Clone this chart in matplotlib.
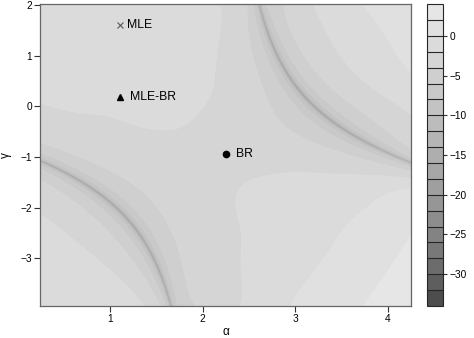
import numpy as np
import matplotlib
matplotlib.use("Agg")
import matplotlib.pyplot as plt

plt.rcParams['font.family'] = ['Liberation Sans', 'DejaVu Sans']

# Zero set of the surface (the surface falls to -inf along it): upper and lower branch
curve_alpha = [2.63, 2.72, 2.84, 3.03, 3.35, 3.80, 4.25,
               0.245, 0.43, 0.97, 1.32, 1.68]
curve_gamma = [2.00, 1.50, 1.00, 0.00, -0.45, -0.82, -1.06,
               -0.95, -1.20, -2.06, -2.79, -3.95]
curve_weight = [1, 1, 1, 1, 1, 1.5, 2,
                1.5, 1.5, 1.5, 1.5, 2.5]

# Points on contour boundaries (or inside a band) and their level
level_alpha = [0.245, 0.97, 1.75, 2.11, 2.19,
               2.40, 2.42, 2.50, 3.00,
               3.19, 3.37, 4.25, 1.35,
               2.49, 2.89, 1.55, 1.94,
               3.73, 4.25, 2.94, 3.05, 3.37, 3.80, 4.25,
               3.73, 4.25,
               2.25, 0.25, 1.00, 0.25,
               4.25, 4.25, 2.20, 2.35, 0.25]
level_gamma = [0.08, -0.18, -0.44, 0.35, 2.00,
               -3.95, -2.50, -1.45, -1.30,
               2.00, 1.35, -0.17, -3.95,
               2.00, 2.00, -3.95, -3.95,
               2.00, 0.67, -3.95, -3.63, -2.85, -1.97, -1.62,
               -3.95, -2.55,
               -0.95, 2.00, 1.00, -3.95,
               2.00, -1.35, -3.95, 2.00, -0.50]
level_value = [-2, -2, -2, -2, -2,
               -2, -2, -2, -2,
               -2, -2, -2, -2,
               -4, -4, -4, -4,
               0, 0, 0, 0, 0, 0, 0,
               2, 2,
               -3, -1, -1, -0.5,
               1, -3, -3, -3, -3]

# Estimates
est_alpha = [1.11, 1.11, 2.25]
est_gamma = [1.61, 0.18, -0.95]
est_names = ["MLE", "MLE-BR", "BR"]

levels = np.arange(-34, 5, 2)
x_range = (0.25, 4.25)
y_range = (-3.94, 2.01)
log_scale = 2.0      # weight of log|h| in the surface
core_scale = 3.0     # extra steepness right at the zero set
core_width = 0.03
h_floor = 0.002      # keeps the surface finite on the zero set
smoothing = 0.02


def quad_terms(a, g):
    a = np.asarray(a, float)
    g = np.asarray(g, float)
    return np.stack([a * a, a * g, g * g, a, g, np.ones_like(a)], axis=-1)


# conic through the zero set (weighted)
ca, cg = np.array(curve_alpha), np.array(curve_gamma)
cw = np.array(curve_weight, float)
_, _, vt = np.linalg.svd(quad_terms(ca, cg) * cw[:, None])
conic = vt[-1]
# scale so that |h| is close to the distance from the zero set
grad_a = 2 * conic[0] * ca + conic[1] * cg + conic[3]
grad_g = conic[1] * ca + 2 * conic[2] * cg + conic[4]
conic = conic / np.mean(np.hypot(grad_a, grad_g))


def singular_part(a, g):
    h = quad_terms(a, g) @ conic
    ah = np.sqrt(h * h + h_floor ** 2)
    return log_scale * np.log(ah) + core_scale * np.log(ah / (ah + core_width))


def tps_kernel(r):
    with np.errstate(divide='ignore', invalid='ignore'):
        k = r * r * np.log(r)
    return np.nan_to_num(k)


# smooth part: thin-plate spline through the remaining level values
la, lg, lv = map(np.array, (level_alpha, level_gamma, level_value))
resid = lv - singular_part(la, lg)
npts = len(la)
K = tps_kernel(np.hypot(la[:, None] - la[None, :], lg[:, None] - lg[None, :]))
P = np.column_stack([np.ones(npts), la, lg])
M = np.zeros((npts + 3, npts + 3))
M[:npts, :npts] = K + smoothing * np.eye(npts)
M[:npts, npts:] = P
M[npts:, :npts] = P.T
sol = np.linalg.solve(M, np.concatenate([resid, np.zeros(3)]))
w, lin = sol[:npts], sol[npts:]


def smooth_part(a, g):
    r = np.hypot(a[..., None] - la, g[..., None] - lg)
    return tps_kernel(r) @ w + lin[0] + lin[1] * a + lin[2] * g


A, G = np.meshgrid(np.linspace(*x_range, 700), np.linspace(*y_range, 600))
Z = singular_part(A, G) + smooth_part(A, G)
Z = np.clip(Z, levels[0] + 1e-3, levels[-1] - 1e-3)

# grey palette, gamma-corrected ramp from dark to light
n = len(levels) - 1
greys = np.linspace(0.3 ** 2.2, 0.9 ** 2.2, n) ** (1 / 2.2)
colors = [(v, v, v) for v in greys]

fig = plt.figure(figsize=(4.74, 3.38), dpi=100)
ax = fig.add_axes([0.085, 0.0947, 0.7827, 0.892])
cax = fig.add_axes([0.9015, 0.0947, 0.0325, 0.8933])

cf = ax.contourf(A, G, Z, levels=levels, colors=colors, antialiased=True)
# close the hairline seams between neighbouring bands
cf.set_edgecolor('face')
cf.set_linewidth(0.4)

ax.plot(est_alpha[0], est_gamma[0], marker='x', color='0.35', ms=5, mew=0.8, ls='none')
ax.plot(est_alpha[1], est_gamma[1], marker='^', color='black', ms=5, ls='none')
ax.plot(est_alpha[2], est_gamma[2], marker='o', color='black', ms=4.5, ls='none')
offsets = [0.07, 0.11, 0.11]
for x, y, name, dx in zip(est_alpha, est_gamma, est_names, offsets):
    ax.text(x + dx, y, name, fontsize=8.8, va='center', ha='left', color='black')

ax.set_xlim(*x_range)
ax.set_ylim(*y_range)
ax.set_xticks([1, 2, 3, 4])
ax.set_yticks([-3, -2, -1, 0, 1, 2])
ax.tick_params(direction='out', length=4, width=0.8, labelsize=7.3, pad=2,
               color='0.2')
ax.set_xlabel('α', fontsize=8.5, labelpad=1)
ax.set_ylabel('γ', fontsize=8.5, labelpad=6)
for s in ax.spines.values():
    s.set_color('0.4')
    s.set_linewidth(0.9)

cb = fig.colorbar(cf, cax=cax, drawedges=True, ticks=np.arange(-30, 1, 5))
cb.dividers.set_color('0.15')
cb.dividers.set_linewidth(0.8)
cb.outline.set_edgecolor('0.15')
cb.outline.set_linewidth(0.8)
cax.tick_params(direction='out', length=3, width=0.8, labelsize=7.3, pad=2,
                color='0.2')

fig.savefig('out.png', dpi=100)
